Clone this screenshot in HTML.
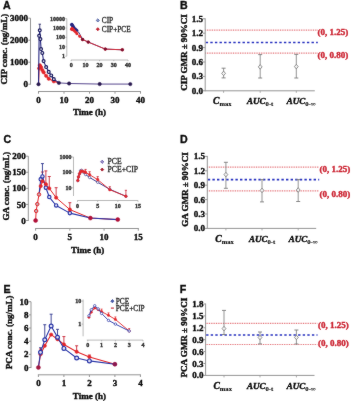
<!DOCTYPE html>
<html><head><meta charset="utf-8"><style>
html,body{margin:0;padding:0;background:#fff;width:351px;height:401px;overflow:hidden}
svg{display:block;will-change:transform}
</style></head><body>
<svg width="351" height="401" viewBox="0 0 351 401">
<defs><filter id="bl" filterUnits="userSpaceOnUse" x="0" y="0" width="351" height="401" color-interpolation-filters="sRGB"><feConvolveMatrix order="3" kernelMatrix="1 2 1 2 48 2 1 2 1" edgeMode="duplicate"/></filter></defs>
<g filter="url(#bl)">
<rect width="351" height="401" fill="#ffffff"/>
<text x="3.10" y="9.00" font-family='"Liberation Sans", sans-serif' font-size="10.6" font-weight="bold" font-style="normal" text-anchor="start" fill="#0c0c0c" stroke="#0c0c0c" stroke-width="0.35">A</text>
<text x="180.00" y="9.00" font-family='"Liberation Sans", sans-serif' font-size="10.6" font-weight="bold" font-style="normal" text-anchor="start" fill="#0c0c0c" stroke="#0c0c0c" stroke-width="0.35">B</text>
<text x="3.40" y="143.40" font-family='"Liberation Sans", sans-serif' font-size="10.6" font-weight="bold" font-style="normal" text-anchor="start" fill="#0c0c0c" stroke="#0c0c0c" stroke-width="0.35">C</text>
<text x="180.00" y="143.40" font-family='"Liberation Sans", sans-serif' font-size="10.6" font-weight="bold" font-style="normal" text-anchor="start" fill="#0c0c0c" stroke="#0c0c0c" stroke-width="0.35">D</text>
<text x="3.60" y="293.00" font-family='"Liberation Sans", sans-serif' font-size="10.6" font-weight="bold" font-style="normal" text-anchor="start" fill="#0c0c0c" stroke="#0c0c0c" stroke-width="0.35">E</text>
<text x="179.80" y="292.60" font-family='"Liberation Sans", sans-serif' font-size="10.6" font-weight="bold" font-style="normal" text-anchor="start" fill="#0c0c0c" stroke="#0c0c0c" stroke-width="0.35">F</text>
<line x1="30.50" y1="18.20" x2="30.50" y2="84.70" stroke="#959595" stroke-width="1"/>
<line x1="28.30" y1="84.20" x2="30.50" y2="84.20" stroke="#959595" stroke-width="1"/>
<text x="27.90" y="87.30" font-family='"Liberation Serif", serif' font-size="9" font-weight="bold" font-style="normal" text-anchor="end" fill="#0c0c0c" stroke="#0c0c0c" stroke-width="0.38">0</text>
<line x1="28.30" y1="62.20" x2="30.50" y2="62.20" stroke="#959595" stroke-width="1"/>
<text x="27.90" y="65.30" font-family='"Liberation Serif", serif' font-size="9" font-weight="bold" font-style="normal" text-anchor="end" fill="#0c0c0c" stroke="#0c0c0c" stroke-width="0.38">1000</text>
<line x1="28.30" y1="40.20" x2="30.50" y2="40.20" stroke="#959595" stroke-width="1"/>
<text x="27.90" y="43.30" font-family='"Liberation Serif", serif' font-size="9" font-weight="bold" font-style="normal" text-anchor="end" fill="#0c0c0c" stroke="#0c0c0c" stroke-width="0.38">2000</text>
<line x1="28.30" y1="18.20" x2="30.50" y2="18.20" stroke="#959595" stroke-width="1"/>
<text x="27.90" y="21.30" font-family='"Liberation Serif", serif' font-size="9" font-weight="bold" font-style="normal" text-anchor="end" fill="#0c0c0c" stroke="#0c0c0c" stroke-width="0.38">3000</text>
<line x1="38.00" y1="91.50" x2="141.00" y2="91.50" stroke="#959595" stroke-width="1"/>
<line x1="38.50" y1="91.50" x2="38.50" y2="93.70" stroke="#959595" stroke-width="1"/>
<text x="38.50" y="102.80" font-family='"Liberation Serif", serif' font-size="9" font-weight="bold" font-style="normal" text-anchor="middle" fill="#0c0c0c" stroke="#0c0c0c" stroke-width="0.38">0</text>
<line x1="64.00" y1="91.50" x2="64.00" y2="93.70" stroke="#959595" stroke-width="1"/>
<text x="64.00" y="102.80" font-family='"Liberation Serif", serif' font-size="9" font-weight="bold" font-style="normal" text-anchor="middle" fill="#0c0c0c" stroke="#0c0c0c" stroke-width="0.38">10</text>
<line x1="89.50" y1="91.50" x2="89.50" y2="93.70" stroke="#959595" stroke-width="1"/>
<text x="89.50" y="102.80" font-family='"Liberation Serif", serif' font-size="9" font-weight="bold" font-style="normal" text-anchor="middle" fill="#0c0c0c" stroke="#0c0c0c" stroke-width="0.38">20</text>
<line x1="115.00" y1="91.50" x2="115.00" y2="93.70" stroke="#959595" stroke-width="1"/>
<text x="115.00" y="102.80" font-family='"Liberation Serif", serif' font-size="9" font-weight="bold" font-style="normal" text-anchor="middle" fill="#0c0c0c" stroke="#0c0c0c" stroke-width="0.38">30</text>
<line x1="140.50" y1="91.50" x2="140.50" y2="93.70" stroke="#959595" stroke-width="1"/>
<text x="140.50" y="102.80" font-family='"Liberation Serif", serif' font-size="9" font-weight="bold" font-style="normal" text-anchor="middle" fill="#0c0c0c" stroke="#0c0c0c" stroke-width="0.38">40</text>
<text x="89.50" y="115.20" font-family='"Liberation Serif", serif' font-size="9" font-weight="bold" font-style="normal" text-anchor="middle" fill="#0c0c0c" stroke="#0c0c0c" stroke-width="0.38">Time (h)</text>
<text x="7.30" y="49.25" font-family='"Liberation Serif", serif' font-size="9" font-weight="bold" font-style="normal" text-anchor="middle" fill="#0c0c0c" stroke="#0c0c0c" stroke-width="0.38" transform="rotate(-90 7.30 49.25)">CIP conc. (ng/mL)</text>
<line x1="39.77" y1="24.20" x2="39.77" y2="30.30" stroke="#1c1c5e" stroke-width="0.8"/>
<line x1="38.52" y1="24.20" x2="41.02" y2="24.20" stroke="#1c1c5e" stroke-width="0.8"/>
<polyline points="38.50,84.20 39.14,68.36 39.77,65.28 40.41,66.60 41.05,67.48 42.33,70.12 43.60,72.32 46.15,75.84 48.70,78.70 53.80,81.34 58.90,82.88" fill="none" stroke="#e3262b" stroke-width="1.1" stroke-linejoin="round"/>
<circle cx="39.14" cy="68.36" r="1.7" fill="#e3262b" stroke="#e3262b" stroke-width="0.5"/>
<circle cx="39.77" cy="65.28" r="1.7" fill="#e3262b" stroke="#e3262b" stroke-width="0.5"/>
<circle cx="40.41" cy="66.60" r="1.7" fill="#e3262b" stroke="#e3262b" stroke-width="0.5"/>
<circle cx="41.05" cy="67.48" r="1.7" fill="#e3262b" stroke="#e3262b" stroke-width="0.5"/>
<circle cx="42.33" cy="70.12" r="1.7" fill="#e3262b" stroke="#e3262b" stroke-width="0.5"/>
<circle cx="43.60" cy="72.32" r="1.7" fill="#e3262b" stroke="#e3262b" stroke-width="0.5"/>
<circle cx="46.15" cy="75.84" r="1.7" fill="#e3262b" stroke="#e3262b" stroke-width="0.5"/>
<circle cx="48.70" cy="78.70" r="1.7" fill="#e3262b" stroke="#e3262b" stroke-width="0.5"/>
<circle cx="53.80" cy="81.34" r="1.7" fill="#e3262b" stroke="#e3262b" stroke-width="0.5"/>
<polyline points="38.50,84.20 39.14,35.80 39.77,30.30 40.41,39.10 41.05,49.00 42.33,52.96 43.60,61.10 46.15,67.04 48.70,71.88 51.25,75.40 53.80,79.14 58.90,82.88" fill="none" stroke="#262680" stroke-width="1.1" stroke-linejoin="round"/>
<polyline points="58.90,82.88 69.10,83.50 99.70,84.07 130.30,84.09" fill="none" stroke="#5a4a90" stroke-width="1.0" stroke-linejoin="round"/>
<circle cx="39.14" cy="35.80" r="1.45" fill="#d8d8ec" stroke="#1c1c5e" stroke-width="1.15"/>
<circle cx="39.77" cy="30.30" r="1.45" fill="#d8d8ec" stroke="#1c1c5e" stroke-width="1.15"/>
<circle cx="40.41" cy="39.10" r="1.45" fill="#d8d8ec" stroke="#1c1c5e" stroke-width="1.15"/>
<circle cx="41.05" cy="49.00" r="1.45" fill="#d8d8ec" stroke="#1c1c5e" stroke-width="1.15"/>
<circle cx="42.33" cy="52.96" r="1.45" fill="#d8d8ec" stroke="#1c1c5e" stroke-width="1.15"/>
<circle cx="43.60" cy="61.10" r="1.45" fill="#d8d8ec" stroke="#1c1c5e" stroke-width="1.15"/>
<circle cx="46.15" cy="67.04" r="1.45" fill="#d8d8ec" stroke="#1c1c5e" stroke-width="1.15"/>
<circle cx="48.70" cy="71.88" r="1.45" fill="#d8d8ec" stroke="#1c1c5e" stroke-width="1.15"/>
<circle cx="51.25" cy="75.40" r="1.45" fill="#d8d8ec" stroke="#1c1c5e" stroke-width="1.15"/>
<circle cx="53.80" cy="79.14" r="1.45" fill="#d8d8ec" stroke="#1c1c5e" stroke-width="1.15"/>
<circle cx="38.50" cy="84.20" r="1.7" fill="#2a1a50" stroke="#2a1a50" stroke-width="0.5"/>
<circle cx="58.90" cy="82.88" r="1.7" fill="#2a1a50" stroke="#2a1a50" stroke-width="0.5"/>
<circle cx="69.10" cy="83.50" r="1.7" fill="#2a1a50" stroke="#2a1a50" stroke-width="0.5"/>
<circle cx="99.70" cy="84.07" r="1.7" fill="#2a1a50" stroke="#2a1a50" stroke-width="0.5"/>
<circle cx="130.30" cy="84.09" r="1.7" fill="#2a1a50" stroke="#2a1a50" stroke-width="0.5"/>
<line x1="66.80" y1="18.60" x2="66.80" y2="56.20" stroke="#a8a8a8" stroke-width="0.8"/>
<line x1="65.30" y1="56.20" x2="66.80" y2="56.20" stroke="#a8a8a8" stroke-width="0.8"/>
<text x="65.00" y="58.20" font-family='"Liberation Serif", serif' font-size="6" font-weight="bold" font-style="normal" text-anchor="end" fill="#333" stroke="#333" stroke-width="0.38">1</text>
<line x1="65.30" y1="46.80" x2="66.80" y2="46.80" stroke="#a8a8a8" stroke-width="0.8"/>
<text x="65.00" y="48.80" font-family='"Liberation Serif", serif' font-size="6" font-weight="bold" font-style="normal" text-anchor="end" fill="#333" stroke="#333" stroke-width="0.38">10</text>
<line x1="65.30" y1="37.40" x2="66.80" y2="37.40" stroke="#a8a8a8" stroke-width="0.8"/>
<text x="65.00" y="39.40" font-family='"Liberation Serif", serif' font-size="6" font-weight="bold" font-style="normal" text-anchor="end" fill="#333" stroke="#333" stroke-width="0.38">100</text>
<line x1="65.30" y1="28.00" x2="66.80" y2="28.00" stroke="#a8a8a8" stroke-width="0.8"/>
<text x="65.00" y="30.00" font-family='"Liberation Serif", serif' font-size="6" font-weight="bold" font-style="normal" text-anchor="end" fill="#333" stroke="#333" stroke-width="0.38">1000</text>
<line x1="65.30" y1="18.60" x2="66.80" y2="18.60" stroke="#a8a8a8" stroke-width="0.8"/>
<text x="65.00" y="20.60" font-family='"Liberation Serif", serif' font-size="6" font-weight="bold" font-style="normal" text-anchor="end" fill="#333" stroke="#333" stroke-width="0.38">10000</text>
<line x1="71.00" y1="60.00" x2="128.00" y2="60.00" stroke="#a8a8a8" stroke-width="0.8"/>
<line x1="71.20" y1="60.00" x2="71.20" y2="61.20" stroke="#a8a8a8" stroke-width="0.8"/>
<text x="71.20" y="67.20" font-family='"Liberation Serif", serif' font-size="6" font-weight="bold" font-style="normal" text-anchor="middle" fill="#333" stroke="#333" stroke-width="0.38">0</text>
<line x1="85.40" y1="60.00" x2="85.40" y2="61.20" stroke="#a8a8a8" stroke-width="0.8"/>
<text x="85.40" y="67.20" font-family='"Liberation Serif", serif' font-size="6" font-weight="bold" font-style="normal" text-anchor="middle" fill="#333" stroke="#333" stroke-width="0.38">10</text>
<line x1="99.60" y1="60.00" x2="99.60" y2="61.20" stroke="#a8a8a8" stroke-width="0.8"/>
<text x="99.60" y="67.20" font-family='"Liberation Serif", serif' font-size="6" font-weight="bold" font-style="normal" text-anchor="middle" fill="#333" stroke="#333" stroke-width="0.38">20</text>
<line x1="113.80" y1="60.00" x2="113.80" y2="61.20" stroke="#a8a8a8" stroke-width="0.8"/>
<text x="113.80" y="67.20" font-family='"Liberation Serif", serif' font-size="6" font-weight="bold" font-style="normal" text-anchor="middle" fill="#333" stroke="#333" stroke-width="0.38">30</text>
<line x1="128.00" y1="60.00" x2="128.00" y2="61.20" stroke="#a8a8a8" stroke-width="0.8"/>
<text x="128.00" y="67.20" font-family='"Liberation Serif", serif' font-size="6" font-weight="bold" font-style="normal" text-anchor="middle" fill="#333" stroke="#333" stroke-width="0.38">40</text>
<polyline points="71.56,24.78 71.91,24.34 72.27,25.07 72.62,26.08 73.33,26.57 74.04,27.80 75.46,29.01 76.88,30.37 78.30,31.74 79.72,34.00 82.56,39.49 88.24,42.05 105.28,49.09 122.32,49.80" fill="none" stroke="#262680" stroke-width="0.9" stroke-linejoin="round"/>
<polyline points="71.56,29.34 71.91,28.62 72.27,28.91 72.62,29.12 73.33,29.82 74.04,30.52 75.46,31.95 76.88,33.66 79.72,36.33 82.56,39.49 88.24,42.05 105.28,49.09 122.32,49.80" fill="none" stroke="#e3262b" stroke-width="0.9" stroke-linejoin="round"/>
<circle cx="71.56" cy="24.78" r="1.3" fill="#262680" stroke="#262680" stroke-width="0.4"/>
<circle cx="71.91" cy="24.34" r="1.3" fill="#262680" stroke="#262680" stroke-width="0.4"/>
<circle cx="72.27" cy="25.07" r="1.3" fill="#262680" stroke="#262680" stroke-width="0.4"/>
<circle cx="72.62" cy="26.08" r="1.3" fill="#262680" stroke="#262680" stroke-width="0.4"/>
<circle cx="73.33" cy="26.57" r="1.3" fill="#262680" stroke="#262680" stroke-width="0.4"/>
<circle cx="74.04" cy="27.80" r="1.3" fill="#262680" stroke="#262680" stroke-width="0.4"/>
<circle cx="75.46" cy="29.01" r="1.3" fill="#262680" stroke="#262680" stroke-width="0.4"/>
<circle cx="76.88" cy="30.37" r="1.3" fill="#262680" stroke="#262680" stroke-width="0.4"/>
<circle cx="71.56" cy="29.34" r="1.3" fill="#e3262b" stroke="#e3262b" stroke-width="0.4"/>
<circle cx="71.91" cy="28.62" r="1.3" fill="#e3262b" stroke="#e3262b" stroke-width="0.4"/>
<circle cx="72.27" cy="28.91" r="1.3" fill="#e3262b" stroke="#e3262b" stroke-width="0.4"/>
<circle cx="72.62" cy="29.12" r="1.3" fill="#e3262b" stroke="#e3262b" stroke-width="0.4"/>
<circle cx="73.33" cy="29.82" r="1.3" fill="#e3262b" stroke="#e3262b" stroke-width="0.4"/>
<circle cx="74.04" cy="30.52" r="1.3" fill="#e3262b" stroke="#e3262b" stroke-width="0.4"/>
<circle cx="75.46" cy="31.95" r="1.3" fill="#e3262b" stroke="#e3262b" stroke-width="0.4"/>
<circle cx="76.88" cy="33.66" r="1.3" fill="#e3262b" stroke="#e3262b" stroke-width="0.4"/>
<circle cx="79.72" cy="36.33" r="1.3" fill="#e3262b" stroke="#e3262b" stroke-width="0.4"/>
<circle cx="82.56" cy="39.49" r="1.3" fill="#e3262b" stroke="#e3262b" stroke-width="0.4"/>
<circle cx="88.24" cy="42.05" r="1.3" fill="#e3262b" stroke="#e3262b" stroke-width="0.4"/>
<circle cx="105.28" cy="49.09" r="1.3" fill="#e3262b" stroke="#e3262b" stroke-width="0.4"/>
<circle cx="122.32" cy="49.80" r="1.3" fill="#e3262b" stroke="#e3262b" stroke-width="0.4"/>
<circle cx="82.56" cy="39.49" r="1.4" fill="#7a1030" stroke="#7a1030" stroke-width="0.4"/>
<circle cx="88.24" cy="42.05" r="1.4" fill="#7a1030" stroke="#7a1030" stroke-width="0.4"/>
<circle cx="105.28" cy="49.09" r="1.4" fill="#7a1030" stroke="#7a1030" stroke-width="0.4"/>
<circle cx="122.32" cy="49.80" r="1.4" fill="#7a1030" stroke="#7a1030" stroke-width="0.4"/>
<path d="M97.80 18.80 L99.40 20.40 L97.80 22.00 L96.20 20.40 Z" fill="#8a96c0" stroke="#5a6aa8" stroke-width="0.9"/>
<text x="101.80" y="23.00" font-family='"Liberation Serif", serif' font-size="7.3" font-weight="normal" font-style="normal" text-anchor="start" fill="#2a2a2a" stroke="#2a2a2a" stroke-width="0.3">CIP</text>
<path d="M97.80 27.70 L99.30 29.20 L97.80 30.70 L96.30 29.20 Z" fill="#c02030" stroke="#c02030" stroke-width="0.9"/>
<text x="101.80" y="31.90" font-family='"Liberation Serif", serif' font-size="7.3" font-weight="normal" font-style="normal" text-anchor="start" fill="#2a2a2a" stroke="#2a2a2a" stroke-width="0.3">CIP+PCE</text>
<line x1="205.20" y1="30.10" x2="317.60" y2="30.10" stroke="#e26a70" stroke-width="1.1" stroke-dasharray="0.9 0.84"/>
<line x1="205.20" y1="53.10" x2="317.60" y2="53.10" stroke="#e26a70" stroke-width="1.1" stroke-dasharray="0.9 0.84"/>
<line x1="205.70" y1="42.50" x2="317.80" y2="42.50" stroke="#2a34c0" stroke-width="1.7" stroke-dasharray="2.4 2.2"/>
<line x1="205.20" y1="18.30" x2="205.20" y2="91.30" stroke="#959595" stroke-width="1"/>
<line x1="203.00" y1="90.80" x2="205.20" y2="90.80" stroke="#959595" stroke-width="1"/>
<text x="203.00" y="93.80" font-family='"Liberation Serif", serif' font-size="9" font-weight="bold" font-style="normal" text-anchor="end" fill="#0c0c0c" stroke="#0c0c0c" stroke-width="0.38">0.0</text>
<line x1="203.00" y1="76.40" x2="205.20" y2="76.40" stroke="#959595" stroke-width="1"/>
<text x="203.00" y="79.40" font-family='"Liberation Serif", serif' font-size="9" font-weight="bold" font-style="normal" text-anchor="end" fill="#0c0c0c" stroke="#0c0c0c" stroke-width="0.38">0.3</text>
<line x1="203.00" y1="62.00" x2="205.20" y2="62.00" stroke="#959595" stroke-width="1"/>
<text x="203.00" y="65.00" font-family='"Liberation Serif", serif' font-size="9" font-weight="bold" font-style="normal" text-anchor="end" fill="#0c0c0c" stroke="#0c0c0c" stroke-width="0.38">0.6</text>
<line x1="203.00" y1="47.60" x2="205.20" y2="47.60" stroke="#959595" stroke-width="1"/>
<text x="203.00" y="50.60" font-family='"Liberation Serif", serif' font-size="9" font-weight="bold" font-style="normal" text-anchor="end" fill="#0c0c0c" stroke="#0c0c0c" stroke-width="0.38">0.9</text>
<line x1="203.00" y1="33.20" x2="205.20" y2="33.20" stroke="#959595" stroke-width="1"/>
<text x="203.00" y="36.20" font-family='"Liberation Serif", serif' font-size="9" font-weight="bold" font-style="normal" text-anchor="end" fill="#0c0c0c" stroke="#0c0c0c" stroke-width="0.38">1.2</text>
<line x1="203.00" y1="18.80" x2="205.20" y2="18.80" stroke="#959595" stroke-width="1"/>
<text x="203.00" y="21.80" font-family='"Liberation Serif", serif' font-size="9" font-weight="bold" font-style="normal" text-anchor="end" fill="#0c0c0c" stroke="#0c0c0c" stroke-width="0.38">1.5</text>
<line x1="205.20" y1="90.80" x2="314.80" y2="90.80" stroke="#959595" stroke-width="1"/>
<line x1="223.60" y1="90.80" x2="223.60" y2="92.80" stroke="#959595" stroke-width="0.8"/>
<line x1="260.20" y1="90.80" x2="260.20" y2="92.80" stroke="#959595" stroke-width="0.8"/>
<line x1="296.30" y1="90.80" x2="296.30" y2="92.80" stroke="#959595" stroke-width="0.8"/>
<text x="222.30" y="104.20" font-family='"Liberation Serif", serif' font-weight="bold" fill="#0c0c0c" stroke="#0c0c0c" stroke-width="0.38" text-anchor="middle"><tspan font-size="9.6" font-style="italic">C</tspan><tspan font-size="6.6" dy="1.9" stroke-width="0.15">max</tspan></text>
<text x="260.20" y="104.20" font-family='"Liberation Serif", serif' font-weight="bold" fill="#0c0c0c" stroke="#0c0c0c" stroke-width="0.38" text-anchor="middle"><tspan font-size="9" font-style="italic">AUC</tspan><tspan font-size="6.6" dy="1.9" stroke-width="0.15">0-t</tspan></text>
<text x="301.10" y="104.20" font-family='"Liberation Serif", serif' font-weight="bold" fill="#0c0c0c" stroke="#0c0c0c" stroke-width="0.38" text-anchor="middle"><tspan font-size="9" font-style="italic">AUC</tspan><tspan font-size="6.6" dy="1.9" stroke-width="0.15">0-∞</tspan></text>
<text x="317.60" y="35.00" font-family='"Liberation Serif", serif' font-size="9" font-weight="bold" font-style="normal" text-anchor="start" fill="#cc2634" stroke="#cc2634" stroke-width="0.38">(0, 1.25)</text>
<text x="317.60" y="58.40" font-family='"Liberation Serif", serif' font-size="9" font-weight="bold" font-style="normal" text-anchor="start" fill="#cc2634" stroke="#cc2634" stroke-width="0.38">(0, 0.80)</text>
<line x1="223.60" y1="68.20" x2="223.60" y2="77.90" stroke="#7a7a7a" stroke-width="0.8"/>
<line x1="221.60" y1="68.20" x2="225.60" y2="68.20" stroke="#7a7a7a" stroke-width="0.9"/>
<line x1="221.60" y1="77.90" x2="225.60" y2="77.90" stroke="#7a7a7a" stroke-width="0.9"/>
<path d="M223.60 71.10 L225.50 73.40 L223.60 75.70 L221.70 73.40 Z" fill="#f4f4f4" stroke="#7a7a7a" stroke-width="0.8"/>
<line x1="260.20" y1="54.60" x2="260.20" y2="78.00" stroke="#7a7a7a" stroke-width="0.8"/>
<line x1="258.20" y1="54.60" x2="262.20" y2="54.60" stroke="#7a7a7a" stroke-width="0.9"/>
<line x1="258.20" y1="78.00" x2="262.20" y2="78.00" stroke="#7a7a7a" stroke-width="0.9"/>
<path d="M260.20 64.60 L262.10 66.90 L260.20 69.20 L258.30 66.90 Z" fill="#f4f4f4" stroke="#7a7a7a" stroke-width="0.8"/>
<line x1="296.30" y1="54.40" x2="296.30" y2="78.00" stroke="#7a7a7a" stroke-width="0.8"/>
<line x1="294.30" y1="54.40" x2="298.30" y2="54.40" stroke="#7a7a7a" stroke-width="0.9"/>
<line x1="294.30" y1="78.00" x2="298.30" y2="78.00" stroke="#7a7a7a" stroke-width="0.9"/>
<path d="M296.30 64.30 L298.20 66.60 L296.30 68.90 L294.40 66.60 Z" fill="#f4f4f4" stroke="#7a7a7a" stroke-width="0.8"/>
<text x="186.60" y="52.50" font-family='"Liberation Serif", serif' font-size="9" font-weight="bold" font-style="normal" text-anchor="middle" fill="#0c0c0c" stroke="#0c0c0c" stroke-width="0.38" transform="rotate(-90 186.60 52.50)">CIP GMR ± 90%CI</text>
<line x1="207.30" y1="167.10" x2="319.00" y2="167.10" stroke="#e26a70" stroke-width="1.1" stroke-dasharray="0.9 0.84"/>
<line x1="207.30" y1="190.90" x2="319.00" y2="190.90" stroke="#e26a70" stroke-width="1.1" stroke-dasharray="0.9 0.84"/>
<line x1="207.80" y1="179.60" x2="319.20" y2="179.60" stroke="#2a34c0" stroke-width="1.7" stroke-dasharray="2.4 2.2"/>
<line x1="207.30" y1="155.90" x2="207.30" y2="228.90" stroke="#959595" stroke-width="1"/>
<line x1="205.10" y1="228.40" x2="207.30" y2="228.40" stroke="#959595" stroke-width="1"/>
<text x="205.10" y="231.40" font-family='"Liberation Serif", serif' font-size="9" font-weight="bold" font-style="normal" text-anchor="end" fill="#0c0c0c" stroke="#0c0c0c" stroke-width="0.38">0.0</text>
<line x1="205.10" y1="214.00" x2="207.30" y2="214.00" stroke="#959595" stroke-width="1"/>
<text x="205.10" y="217.00" font-family='"Liberation Serif", serif' font-size="9" font-weight="bold" font-style="normal" text-anchor="end" fill="#0c0c0c" stroke="#0c0c0c" stroke-width="0.38">0.3</text>
<line x1="205.10" y1="199.60" x2="207.30" y2="199.60" stroke="#959595" stroke-width="1"/>
<text x="205.10" y="202.60" font-family='"Liberation Serif", serif' font-size="9" font-weight="bold" font-style="normal" text-anchor="end" fill="#0c0c0c" stroke="#0c0c0c" stroke-width="0.38">0.6</text>
<line x1="205.10" y1="185.20" x2="207.30" y2="185.20" stroke="#959595" stroke-width="1"/>
<text x="205.10" y="188.20" font-family='"Liberation Serif", serif' font-size="9" font-weight="bold" font-style="normal" text-anchor="end" fill="#0c0c0c" stroke="#0c0c0c" stroke-width="0.38">0.9</text>
<line x1="205.10" y1="170.80" x2="207.30" y2="170.80" stroke="#959595" stroke-width="1"/>
<text x="205.10" y="173.80" font-family='"Liberation Serif", serif' font-size="9" font-weight="bold" font-style="normal" text-anchor="end" fill="#0c0c0c" stroke="#0c0c0c" stroke-width="0.38">1.2</text>
<line x1="205.10" y1="156.40" x2="207.30" y2="156.40" stroke="#959595" stroke-width="1"/>
<text x="205.10" y="159.40" font-family='"Liberation Serif", serif' font-size="9" font-weight="bold" font-style="normal" text-anchor="end" fill="#0c0c0c" stroke="#0c0c0c" stroke-width="0.38">1.5</text>
<line x1="207.30" y1="228.40" x2="316.20" y2="228.40" stroke="#959595" stroke-width="1"/>
<line x1="225.90" y1="228.40" x2="225.90" y2="230.40" stroke="#959595" stroke-width="0.8"/>
<line x1="262.00" y1="228.40" x2="262.00" y2="230.40" stroke="#959595" stroke-width="0.8"/>
<line x1="298.20" y1="228.40" x2="298.20" y2="230.40" stroke="#959595" stroke-width="0.8"/>
<text x="224.60" y="241.80" font-family='"Liberation Serif", serif' font-weight="bold" fill="#0c0c0c" stroke="#0c0c0c" stroke-width="0.38" text-anchor="middle"><tspan font-size="9.6" font-style="italic">C</tspan><tspan font-size="6.6" dy="1.9" stroke-width="0.15">max</tspan></text>
<text x="262.00" y="241.80" font-family='"Liberation Serif", serif' font-weight="bold" fill="#0c0c0c" stroke="#0c0c0c" stroke-width="0.38" text-anchor="middle"><tspan font-size="9" font-style="italic">AUC</tspan><tspan font-size="6.6" dy="1.9" stroke-width="0.15">0-t</tspan></text>
<text x="303.00" y="241.80" font-family='"Liberation Serif", serif' font-weight="bold" fill="#0c0c0c" stroke="#0c0c0c" stroke-width="0.38" text-anchor="middle"><tspan font-size="9" font-style="italic">AUC</tspan><tspan font-size="6.6" dy="1.9" stroke-width="0.15">0-∞</tspan></text>
<text x="319.60" y="172.00" font-family='"Liberation Serif", serif' font-size="9" font-weight="bold" font-style="normal" text-anchor="start" fill="#cc2634" stroke="#cc2634" stroke-width="0.38">(0, 1.25)</text>
<text x="319.60" y="197.10" font-family='"Liberation Serif", serif' font-size="9" font-weight="bold" font-style="normal" text-anchor="start" fill="#cc2634" stroke="#cc2634" stroke-width="0.38">(0, 0.80)</text>
<line x1="225.90" y1="162.30" x2="225.90" y2="188.30" stroke="#7a7a7a" stroke-width="0.8"/>
<line x1="223.90" y1="162.30" x2="227.90" y2="162.30" stroke="#7a7a7a" stroke-width="0.9"/>
<line x1="223.90" y1="188.30" x2="227.90" y2="188.30" stroke="#7a7a7a" stroke-width="0.9"/>
<path d="M225.90 172.30 L227.80 174.60 L225.90 176.90 L224.00 174.60 Z" fill="#f4f4f4" stroke="#7a7a7a" stroke-width="0.8"/>
<line x1="262.00" y1="179.60" x2="262.00" y2="201.90" stroke="#7a7a7a" stroke-width="0.8"/>
<line x1="260.00" y1="179.60" x2="264.00" y2="179.60" stroke="#7a7a7a" stroke-width="0.9"/>
<line x1="260.00" y1="201.90" x2="264.00" y2="201.90" stroke="#7a7a7a" stroke-width="0.9"/>
<path d="M262.00 188.10 L263.90 190.40 L262.00 192.70 L260.10 190.40 Z" fill="#f4f4f4" stroke="#7a7a7a" stroke-width="0.8"/>
<line x1="298.20" y1="179.60" x2="298.20" y2="201.50" stroke="#7a7a7a" stroke-width="0.8"/>
<line x1="296.20" y1="179.60" x2="300.20" y2="179.60" stroke="#7a7a7a" stroke-width="0.9"/>
<line x1="296.20" y1="201.50" x2="300.20" y2="201.50" stroke="#7a7a7a" stroke-width="0.9"/>
<path d="M298.20 187.70 L300.10 190.00 L298.20 192.30 L296.30 190.00 Z" fill="#f4f4f4" stroke="#7a7a7a" stroke-width="0.8"/>
<text x="188.00" y="189.50" font-family='"Liberation Serif", serif' font-size="9" font-weight="bold" font-style="normal" text-anchor="middle" fill="#0c0c0c" stroke="#0c0c0c" stroke-width="0.38" transform="rotate(-90 188.00 189.50)">GA GMR ± 90%CI</text>
<line x1="205.60" y1="323.40" x2="317.30" y2="323.40" stroke="#e26a70" stroke-width="1.1" stroke-dasharray="0.9 0.84"/>
<line x1="205.60" y1="344.50" x2="317.30" y2="344.50" stroke="#e26a70" stroke-width="1.1" stroke-dasharray="0.9 0.84"/>
<line x1="206.10" y1="335.00" x2="317.50" y2="335.00" stroke="#2a34c0" stroke-width="1.7" stroke-dasharray="2.4 2.2"/>
<line x1="205.60" y1="303.50" x2="205.60" y2="375.90" stroke="#959595" stroke-width="1"/>
<line x1="203.40" y1="375.40" x2="205.60" y2="375.40" stroke="#959595" stroke-width="1"/>
<text x="203.40" y="378.40" font-family='"Liberation Serif", serif' font-size="9" font-weight="bold" font-style="normal" text-anchor="end" fill="#0c0c0c" stroke="#0c0c0c" stroke-width="0.38">0.0</text>
<line x1="203.40" y1="363.50" x2="205.60" y2="363.50" stroke="#959595" stroke-width="1"/>
<text x="203.40" y="366.50" font-family='"Liberation Serif", serif' font-size="9" font-weight="bold" font-style="normal" text-anchor="end" fill="#0c0c0c" stroke="#0c0c0c" stroke-width="0.38">0.3</text>
<line x1="203.40" y1="351.60" x2="205.60" y2="351.60" stroke="#959595" stroke-width="1"/>
<text x="203.40" y="354.60" font-family='"Liberation Serif", serif' font-size="9" font-weight="bold" font-style="normal" text-anchor="end" fill="#0c0c0c" stroke="#0c0c0c" stroke-width="0.38">0.6</text>
<line x1="203.40" y1="339.70" x2="205.60" y2="339.70" stroke="#959595" stroke-width="1"/>
<text x="203.40" y="342.70" font-family='"Liberation Serif", serif' font-size="9" font-weight="bold" font-style="normal" text-anchor="end" fill="#0c0c0c" stroke="#0c0c0c" stroke-width="0.38">0.9</text>
<line x1="203.40" y1="327.80" x2="205.60" y2="327.80" stroke="#959595" stroke-width="1"/>
<text x="203.40" y="330.80" font-family='"Liberation Serif", serif' font-size="9" font-weight="bold" font-style="normal" text-anchor="end" fill="#0c0c0c" stroke="#0c0c0c" stroke-width="0.38">1.2</text>
<line x1="203.40" y1="315.90" x2="205.60" y2="315.90" stroke="#959595" stroke-width="1"/>
<text x="203.40" y="318.90" font-family='"Liberation Serif", serif' font-size="9" font-weight="bold" font-style="normal" text-anchor="end" fill="#0c0c0c" stroke="#0c0c0c" stroke-width="0.38">1.5</text>
<line x1="203.40" y1="304.00" x2="205.60" y2="304.00" stroke="#959595" stroke-width="1"/>
<text x="203.40" y="307.00" font-family='"Liberation Serif", serif' font-size="9" font-weight="bold" font-style="normal" text-anchor="end" fill="#0c0c0c" stroke="#0c0c0c" stroke-width="0.38">1.8</text>
<line x1="205.60" y1="375.40" x2="314.50" y2="375.40" stroke="#959595" stroke-width="1"/>
<line x1="224.00" y1="375.40" x2="224.00" y2="377.40" stroke="#959595" stroke-width="0.8"/>
<line x1="260.00" y1="375.40" x2="260.00" y2="377.40" stroke="#959595" stroke-width="0.8"/>
<line x1="296.40" y1="375.40" x2="296.40" y2="377.40" stroke="#959595" stroke-width="0.8"/>
<text x="222.70" y="388.80" font-family='"Liberation Serif", serif' font-weight="bold" fill="#0c0c0c" stroke="#0c0c0c" stroke-width="0.38" text-anchor="middle"><tspan font-size="9.6" font-style="italic">C</tspan><tspan font-size="6.6" dy="1.9" stroke-width="0.15">max</tspan></text>
<text x="260.00" y="388.80" font-family='"Liberation Serif", serif' font-weight="bold" fill="#0c0c0c" stroke="#0c0c0c" stroke-width="0.38" text-anchor="middle"><tspan font-size="9" font-style="italic">AUC</tspan><tspan font-size="6.6" dy="1.9" stroke-width="0.15">0-t</tspan></text>
<text x="301.20" y="388.80" font-family='"Liberation Serif", serif' font-weight="bold" fill="#0c0c0c" stroke="#0c0c0c" stroke-width="0.38" text-anchor="middle"><tspan font-size="9" font-style="italic">AUC</tspan><tspan font-size="6.6" dy="1.9" stroke-width="0.15">0-∞</tspan></text>
<text x="317.90" y="328.30" font-family='"Liberation Serif", serif' font-size="9" font-weight="bold" font-style="normal" text-anchor="start" fill="#cc2634" stroke="#cc2634" stroke-width="0.38">(0, 1.25)</text>
<text x="317.90" y="346.30" font-family='"Liberation Serif", serif' font-size="9" font-weight="bold" font-style="normal" text-anchor="start" fill="#cc2634" stroke="#cc2634" stroke-width="0.38">(0, 0.80)</text>
<line x1="224.00" y1="310.40" x2="224.00" y2="334.50" stroke="#7a7a7a" stroke-width="0.8"/>
<line x1="222.00" y1="310.40" x2="226.00" y2="310.40" stroke="#7a7a7a" stroke-width="0.9"/>
<line x1="222.00" y1="334.50" x2="226.00" y2="334.50" stroke="#7a7a7a" stroke-width="0.9"/>
<path d="M224.00 326.30 L225.90 328.60 L224.00 330.90 L222.10 328.60 Z" fill="#f4f4f4" stroke="#7a7a7a" stroke-width="0.8"/>
<line x1="260.00" y1="332.00" x2="260.00" y2="343.90" stroke="#7a7a7a" stroke-width="0.8"/>
<line x1="258.00" y1="332.00" x2="262.00" y2="332.00" stroke="#7a7a7a" stroke-width="0.9"/>
<line x1="258.00" y1="343.90" x2="262.00" y2="343.90" stroke="#7a7a7a" stroke-width="0.9"/>
<path d="M260.00 335.20 L261.90 337.50 L260.00 339.80 L258.10 337.50 Z" fill="#f4f4f4" stroke="#7a7a7a" stroke-width="0.8"/>
<line x1="296.40" y1="330.00" x2="296.40" y2="344.00" stroke="#7a7a7a" stroke-width="0.8"/>
<line x1="294.40" y1="330.00" x2="298.40" y2="330.00" stroke="#7a7a7a" stroke-width="0.9"/>
<line x1="294.40" y1="344.00" x2="298.40" y2="344.00" stroke="#7a7a7a" stroke-width="0.9"/>
<path d="M296.40 335.10 L298.30 337.40 L296.40 339.70 L294.50 337.40 Z" fill="#f4f4f4" stroke="#7a7a7a" stroke-width="0.8"/>
<text x="186.60" y="337.70" font-family='"Liberation Serif", serif' font-size="9" font-weight="bold" font-style="normal" text-anchor="middle" fill="#0c0c0c" stroke="#0c0c0c" stroke-width="0.38" transform="rotate(-90 186.60 337.70)">PCA GMR ± 90%CI</text>
<line x1="28.30" y1="156.20" x2="28.30" y2="221.00" stroke="#959595" stroke-width="1"/>
<line x1="26.10" y1="220.50" x2="28.30" y2="220.50" stroke="#959595" stroke-width="1"/>
<text x="25.70" y="223.60" font-family='"Liberation Serif", serif' font-size="9" font-weight="bold" font-style="normal" text-anchor="end" fill="#0c0c0c" stroke="#0c0c0c" stroke-width="0.38">0</text>
<line x1="26.10" y1="204.43" x2="28.30" y2="204.43" stroke="#959595" stroke-width="1"/>
<text x="25.70" y="207.53" font-family='"Liberation Serif", serif' font-size="9" font-weight="bold" font-style="normal" text-anchor="end" fill="#0c0c0c" stroke="#0c0c0c" stroke-width="0.38">50</text>
<line x1="26.10" y1="188.35" x2="28.30" y2="188.35" stroke="#959595" stroke-width="1"/>
<text x="25.70" y="191.45" font-family='"Liberation Serif", serif' font-size="9" font-weight="bold" font-style="normal" text-anchor="end" fill="#0c0c0c" stroke="#0c0c0c" stroke-width="0.38">100</text>
<line x1="26.10" y1="172.27" x2="28.30" y2="172.27" stroke="#959595" stroke-width="1"/>
<text x="25.70" y="175.37" font-family='"Liberation Serif", serif' font-size="9" font-weight="bold" font-style="normal" text-anchor="end" fill="#0c0c0c" stroke="#0c0c0c" stroke-width="0.38">150</text>
<line x1="26.10" y1="156.20" x2="28.30" y2="156.20" stroke="#959595" stroke-width="1"/>
<text x="25.70" y="159.30" font-family='"Liberation Serif", serif' font-size="9" font-weight="bold" font-style="normal" text-anchor="end" fill="#0c0c0c" stroke="#0c0c0c" stroke-width="0.38">200</text>
<line x1="35.10" y1="228.50" x2="138.80" y2="228.50" stroke="#959595" stroke-width="1"/>
<line x1="35.60" y1="228.50" x2="35.60" y2="230.70" stroke="#959595" stroke-width="1"/>
<text x="35.60" y="239.80" font-family='"Liberation Serif", serif' font-size="9" font-weight="bold" font-style="normal" text-anchor="middle" fill="#0c0c0c" stroke="#0c0c0c" stroke-width="0.38">0</text>
<line x1="69.83" y1="228.50" x2="69.83" y2="230.70" stroke="#959595" stroke-width="1"/>
<text x="69.83" y="239.80" font-family='"Liberation Serif", serif' font-size="9" font-weight="bold" font-style="normal" text-anchor="middle" fill="#0c0c0c" stroke="#0c0c0c" stroke-width="0.38">5</text>
<line x1="104.07" y1="228.50" x2="104.07" y2="230.70" stroke="#959595" stroke-width="1"/>
<text x="104.07" y="239.80" font-family='"Liberation Serif", serif' font-size="9" font-weight="bold" font-style="normal" text-anchor="middle" fill="#0c0c0c" stroke="#0c0c0c" stroke-width="0.38">10</text>
<line x1="138.30" y1="228.50" x2="138.30" y2="230.70" stroke="#959595" stroke-width="1"/>
<text x="138.30" y="239.80" font-family='"Liberation Serif", serif' font-size="9" font-weight="bold" font-style="normal" text-anchor="middle" fill="#0c0c0c" stroke="#0c0c0c" stroke-width="0.38">15</text>
<text x="87.60" y="252.60" font-family='"Liberation Serif", serif' font-size="9" font-weight="bold" font-style="normal" text-anchor="middle" fill="#0c0c0c" stroke="#0c0c0c" stroke-width="0.38">Time (h)</text>
<text x="9.00" y="186.10" font-family='"Liberation Serif", serif' font-size="9" font-weight="bold" font-style="normal" text-anchor="middle" fill="#0c0c0c" stroke="#0c0c0c" stroke-width="0.38" transform="rotate(-90 9.00 186.10)">GA conc. (ng/mL)</text>
<line x1="42.45" y1="172.00" x2="42.45" y2="181.28" stroke="#c82838" stroke-width="0.9"/>
<line x1="40.95" y1="172.00" x2="43.95" y2="172.00" stroke="#c82838" stroke-width="0.9"/>
<line x1="45.87" y1="170.90" x2="45.87" y2="184.17" stroke="#c82838" stroke-width="0.9"/>
<line x1="44.37" y1="170.90" x2="47.37" y2="170.90" stroke="#c82838" stroke-width="0.9"/>
<line x1="49.29" y1="176.50" x2="49.29" y2="188.35" stroke="#c82838" stroke-width="0.9"/>
<line x1="47.79" y1="176.50" x2="50.79" y2="176.50" stroke="#c82838" stroke-width="0.9"/>
<line x1="56.14" y1="187.70" x2="56.14" y2="197.67" stroke="#c82838" stroke-width="0.9"/>
<line x1="54.64" y1="187.70" x2="57.64" y2="187.70" stroke="#c82838" stroke-width="0.9"/>
<line x1="69.83" y1="202.70" x2="69.83" y2="209.57" stroke="#c82838" stroke-width="0.9"/>
<line x1="68.33" y1="202.70" x2="71.33" y2="202.70" stroke="#c82838" stroke-width="0.9"/>
<line x1="42.45" y1="163.60" x2="42.45" y2="176.45" stroke="#303890" stroke-width="0.9"/>
<line x1="40.95" y1="163.60" x2="43.95" y2="163.60" stroke="#303890" stroke-width="0.9"/>
<line x1="40.73" y1="178.00" x2="40.73" y2="179.35" stroke="#303890" stroke-width="0.8"/>
<line x1="39.44" y1="178.00" x2="42.03" y2="178.00" stroke="#303890" stroke-width="0.8"/>
<polyline points="35.60,220.50 36.17,211.02 37.31,204.10 39.02,194.46 40.73,186.10 42.45,181.28 45.87,184.17 49.29,188.35 56.14,197.67 69.83,209.57 90.37,218.09 117.76,219.60" fill="none" stroke="#e3262b" stroke-width="1.0" stroke-linejoin="round"/>
<polyline points="39.02,194.46 40.73,179.35 42.45,176.45 45.87,187.71 49.29,197.03 56.14,205.49 69.83,213.11 90.37,217.93 117.76,219.60" fill="none" stroke="#2a36a8" stroke-width="1.1" stroke-linejoin="round"/>
<circle cx="40.73" cy="179.35" r="1.7" fill="#e0e0f4" stroke="#2a36a8" stroke-width="1.15"/>
<circle cx="42.45" cy="176.45" r="1.7" fill="#e0e0f4" stroke="#2a36a8" stroke-width="1.15"/>
<circle cx="45.87" cy="187.71" r="1.7" fill="#e0e0f4" stroke="#2a36a8" stroke-width="1.15"/>
<circle cx="49.29" cy="197.03" r="1.7" fill="#e0e0f4" stroke="#2a36a8" stroke-width="1.15"/>
<circle cx="56.14" cy="205.49" r="1.7" fill="#e0e0f4" stroke="#2a36a8" stroke-width="1.15"/>
<circle cx="69.83" cy="213.11" r="1.7" fill="#e0e0f4" stroke="#2a36a8" stroke-width="1.15"/>
<circle cx="36.17" cy="211.02" r="1.7" fill="#c8a8b0" stroke="#e3262b" stroke-width="1.0"/>
<circle cx="37.31" cy="204.10" r="1.7" fill="#c8a8b0" stroke="#e3262b" stroke-width="1.0"/>
<circle cx="39.02" cy="194.46" r="1.7" fill="#c8a8b0" stroke="#e3262b" stroke-width="1.0"/>
<circle cx="40.73" cy="186.10" r="1.7" fill="#e3262b" stroke="#e3262b" stroke-width="0.5"/>
<circle cx="42.45" cy="181.28" r="1.7" fill="#e3262b" stroke="#e3262b" stroke-width="0.5"/>
<circle cx="45.87" cy="184.17" r="1.7" fill="#e3262b" stroke="#e3262b" stroke-width="0.5"/>
<circle cx="49.29" cy="188.35" r="1.7" fill="#e3262b" stroke="#e3262b" stroke-width="0.5"/>
<circle cx="56.14" cy="197.67" r="1.7" fill="#e3262b" stroke="#e3262b" stroke-width="0.5"/>
<circle cx="69.83" cy="209.57" r="1.7" fill="#e3262b" stroke="#e3262b" stroke-width="0.5"/>
<circle cx="35.60" cy="220.50" r="2.0" fill="#b01038" stroke="#b01038" stroke-width="0.5"/>
<circle cx="90.37" cy="218.09" r="2.0" fill="#b01038" stroke="#b01038" stroke-width="0.5"/>
<circle cx="117.76" cy="219.60" r="2.0" fill="#b01038" stroke="#b01038" stroke-width="0.5"/>
<line x1="73.50" y1="157.00" x2="73.50" y2="196.00" stroke="#a8a8a8" stroke-width="0.8"/>
<line x1="72.00" y1="187.80" x2="73.50" y2="187.80" stroke="#a8a8a8" stroke-width="0.8"/>
<text x="71.60" y="189.80" font-family='"Liberation Serif", serif' font-size="6" font-weight="bold" font-style="normal" text-anchor="end" fill="#333" stroke="#333" stroke-width="0.38">10</text>
<line x1="72.00" y1="172.40" x2="73.50" y2="172.40" stroke="#a8a8a8" stroke-width="0.8"/>
<text x="71.60" y="174.40" font-family='"Liberation Serif", serif' font-size="6" font-weight="bold" font-style="normal" text-anchor="end" fill="#333" stroke="#333" stroke-width="0.38">100</text>
<line x1="72.00" y1="157.00" x2="73.50" y2="157.00" stroke="#a8a8a8" stroke-width="0.8"/>
<text x="71.60" y="159.00" font-family='"Liberation Serif", serif' font-size="6" font-weight="bold" font-style="normal" text-anchor="end" fill="#333" stroke="#333" stroke-width="0.38">1000</text>
<line x1="77.40" y1="200.50" x2="138.00" y2="200.50" stroke="#a8a8a8" stroke-width="0.8"/>
<line x1="77.50" y1="200.50" x2="77.50" y2="201.80" stroke="#a8a8a8" stroke-width="0.8"/>
<text x="77.50" y="208.00" font-family='"Liberation Serif", serif' font-size="6" font-weight="bold" font-style="normal" text-anchor="middle" fill="#333" stroke="#333" stroke-width="0.38">0</text>
<line x1="97.67" y1="200.50" x2="97.67" y2="201.80" stroke="#a8a8a8" stroke-width="0.8"/>
<text x="97.67" y="208.00" font-family='"Liberation Serif", serif' font-size="6" font-weight="bold" font-style="normal" text-anchor="middle" fill="#333" stroke="#333" stroke-width="0.38">5</text>
<line x1="117.84" y1="200.50" x2="117.84" y2="201.80" stroke="#a8a8a8" stroke-width="0.8"/>
<text x="117.84" y="208.00" font-family='"Liberation Serif", serif' font-size="6" font-weight="bold" font-style="normal" text-anchor="middle" fill="#333" stroke="#333" stroke-width="0.38">10</text>
<line x1="138.01" y1="200.50" x2="138.01" y2="201.80" stroke="#a8a8a8" stroke-width="0.8"/>
<text x="138.01" y="208.00" font-family='"Liberation Serif", serif' font-size="6" font-weight="bold" font-style="normal" text-anchor="middle" fill="#333" stroke="#333" stroke-width="0.38">15</text>
<line x1="85.57" y1="169.40" x2="85.57" y2="172.40" stroke="#c82838" stroke-width="0.8"/>
<line x1="84.47" y1="169.40" x2="86.67" y2="169.40" stroke="#c82838" stroke-width="0.8"/>
<line x1="89.60" y1="171.69" x2="89.60" y2="174.69" stroke="#c82838" stroke-width="0.8"/>
<line x1="88.50" y1="171.69" x2="90.70" y2="171.69" stroke="#c82838" stroke-width="0.8"/>
<line x1="97.67" y1="176.62" x2="97.67" y2="179.62" stroke="#c82838" stroke-width="0.8"/>
<line x1="96.57" y1="176.62" x2="98.77" y2="176.62" stroke="#c82838" stroke-width="0.8"/>
<line x1="109.77" y1="186.72" x2="109.77" y2="189.72" stroke="#c82838" stroke-width="0.8"/>
<line x1="108.67" y1="186.72" x2="110.87" y2="186.72" stroke="#c82838" stroke-width="0.8"/>
<line x1="125.90" y1="190.31" x2="125.90" y2="196.31" stroke="#c82838" stroke-width="0.8"/>
<line x1="124.80" y1="190.31" x2="127.00" y2="190.31" stroke="#c82838" stroke-width="0.8"/>
<polyline points="77.83,180.56 78.51,176.90 79.52,173.81 80.53,170.75 81.53,170.29 83.55,172.27 85.57,174.50 89.60,177.49 97.67,182.23 109.77,189.29 125.90,196.31" fill="none" stroke="#262680" stroke-width="0.9" stroke-linejoin="round"/>
<circle cx="77.83" cy="180.56" r="1.2" fill="white" stroke="#262680" stroke-width="0.6"/>
<circle cx="78.51" cy="176.90" r="1.2" fill="white" stroke="#262680" stroke-width="0.6"/>
<circle cx="79.52" cy="173.81" r="1.2" fill="white" stroke="#262680" stroke-width="0.6"/>
<circle cx="80.53" cy="170.75" r="1.2" fill="white" stroke="#262680" stroke-width="0.6"/>
<circle cx="81.53" cy="170.29" r="1.2" fill="white" stroke="#262680" stroke-width="0.6"/>
<circle cx="83.55" cy="172.27" r="1.2" fill="white" stroke="#262680" stroke-width="0.6"/>
<circle cx="85.57" cy="174.50" r="1.2" fill="white" stroke="#262680" stroke-width="0.6"/>
<circle cx="89.60" cy="177.49" r="1.2" fill="white" stroke="#262680" stroke-width="0.6"/>
<circle cx="97.67" cy="182.23" r="1.2" fill="white" stroke="#262680" stroke-width="0.6"/>
<circle cx="109.77" cy="189.29" r="1.2" fill="white" stroke="#262680" stroke-width="0.6"/>
<circle cx="125.90" cy="196.31" r="1.2" fill="white" stroke="#262680" stroke-width="0.6"/>
<polyline points="77.83,180.56 78.51,176.90 79.52,173.81 80.53,171.95 81.53,171.07 83.55,171.58 85.57,172.40 89.60,174.69 97.67,179.62 109.77,189.72 125.90,196.31" fill="none" stroke="#e3262b" stroke-width="0.9" stroke-linejoin="round"/>
<circle cx="77.83" cy="180.56" r="1.3" fill="#e3262b" stroke="#e3262b" stroke-width="0.4"/>
<circle cx="78.51" cy="176.90" r="1.3" fill="#e3262b" stroke="#e3262b" stroke-width="0.4"/>
<circle cx="79.52" cy="173.81" r="1.3" fill="#e3262b" stroke="#e3262b" stroke-width="0.4"/>
<circle cx="80.53" cy="171.95" r="1.3" fill="#e3262b" stroke="#e3262b" stroke-width="0.4"/>
<circle cx="81.53" cy="171.07" r="1.3" fill="#e3262b" stroke="#e3262b" stroke-width="0.4"/>
<circle cx="83.55" cy="171.58" r="1.3" fill="#e3262b" stroke="#e3262b" stroke-width="0.4"/>
<circle cx="85.57" cy="172.40" r="1.3" fill="#e3262b" stroke="#e3262b" stroke-width="0.4"/>
<circle cx="89.60" cy="174.69" r="1.3" fill="#e3262b" stroke="#e3262b" stroke-width="0.4"/>
<circle cx="97.67" cy="179.62" r="1.3" fill="#e3262b" stroke="#e3262b" stroke-width="0.4"/>
<circle cx="109.77" cy="189.72" r="1.3" fill="#e3262b" stroke="#e3262b" stroke-width="0.4"/>
<circle cx="125.90" cy="196.31" r="1.3" fill="#e3262b" stroke="#e3262b" stroke-width="0.4"/>
<path d="M102.20 160.20 L103.80 161.80 L102.20 163.40 L100.60 161.80 Z" fill="#9a90c8" stroke="#6a5aa8" stroke-width="0.9"/>
<text x="107.60" y="164.40" font-family='"Liberation Serif", serif' font-size="7.7" font-weight="normal" font-style="normal" text-anchor="start" fill="#2a2a2a" stroke="#2a2a2a" stroke-width="0.3">PCE</text>
<path d="M102.20 168.10 L103.70 169.60 L102.20 171.10 L100.70 169.60 Z" fill="#a82030" stroke="#a82030" stroke-width="0.9"/>
<text x="107.60" y="172.10" font-family='"Liberation Serif", serif' font-size="7.7" font-weight="normal" font-style="normal" text-anchor="start" fill="#2a2a2a" stroke="#2a2a2a" stroke-width="0.3">PCE+CIP</text>
<line x1="31.00" y1="301.70" x2="31.00" y2="368.00" stroke="#959595" stroke-width="1"/>
<line x1="28.80" y1="367.50" x2="31.00" y2="367.50" stroke="#959595" stroke-width="1"/>
<text x="28.40" y="370.60" font-family='"Liberation Serif", serif' font-size="9" font-weight="bold" font-style="normal" text-anchor="end" fill="#0c0c0c" stroke="#0c0c0c" stroke-width="0.38">0</text>
<line x1="28.80" y1="354.34" x2="31.00" y2="354.34" stroke="#959595" stroke-width="1"/>
<text x="28.40" y="357.44" font-family='"Liberation Serif", serif' font-size="9" font-weight="bold" font-style="normal" text-anchor="end" fill="#0c0c0c" stroke="#0c0c0c" stroke-width="0.38">2</text>
<line x1="28.80" y1="341.18" x2="31.00" y2="341.18" stroke="#959595" stroke-width="1"/>
<text x="28.40" y="344.28" font-family='"Liberation Serif", serif' font-size="9" font-weight="bold" font-style="normal" text-anchor="end" fill="#0c0c0c" stroke="#0c0c0c" stroke-width="0.38">4</text>
<line x1="28.80" y1="328.02" x2="31.00" y2="328.02" stroke="#959595" stroke-width="1"/>
<text x="28.40" y="331.12" font-family='"Liberation Serif", serif' font-size="9" font-weight="bold" font-style="normal" text-anchor="end" fill="#0c0c0c" stroke="#0c0c0c" stroke-width="0.38">6</text>
<line x1="28.80" y1="314.86" x2="31.00" y2="314.86" stroke="#959595" stroke-width="1"/>
<text x="28.40" y="317.96" font-family='"Liberation Serif", serif' font-size="9" font-weight="bold" font-style="normal" text-anchor="end" fill="#0c0c0c" stroke="#0c0c0c" stroke-width="0.38">8</text>
<line x1="28.80" y1="301.70" x2="31.00" y2="301.70" stroke="#959595" stroke-width="1"/>
<text x="28.40" y="304.80" font-family='"Liberation Serif", serif' font-size="9" font-weight="bold" font-style="normal" text-anchor="end" fill="#0c0c0c" stroke="#0c0c0c" stroke-width="0.38">10</text>
<line x1="37.90" y1="374.80" x2="140.90" y2="374.80" stroke="#959595" stroke-width="1"/>
<line x1="38.40" y1="374.80" x2="38.40" y2="377.00" stroke="#959595" stroke-width="1"/>
<text x="38.40" y="386.10" font-family='"Liberation Serif", serif' font-size="9" font-weight="bold" font-style="normal" text-anchor="middle" fill="#0c0c0c" stroke="#0c0c0c" stroke-width="0.38">0</text>
<line x1="63.90" y1="374.80" x2="63.90" y2="377.00" stroke="#959595" stroke-width="1"/>
<text x="63.90" y="386.10" font-family='"Liberation Serif", serif' font-size="9" font-weight="bold" font-style="normal" text-anchor="middle" fill="#0c0c0c" stroke="#0c0c0c" stroke-width="0.38">1</text>
<line x1="89.40" y1="374.80" x2="89.40" y2="377.00" stroke="#959595" stroke-width="1"/>
<text x="89.40" y="386.10" font-family='"Liberation Serif", serif' font-size="9" font-weight="bold" font-style="normal" text-anchor="middle" fill="#0c0c0c" stroke="#0c0c0c" stroke-width="0.38">2</text>
<line x1="114.90" y1="374.80" x2="114.90" y2="377.00" stroke="#959595" stroke-width="1"/>
<text x="114.90" y="386.10" font-family='"Liberation Serif", serif' font-size="9" font-weight="bold" font-style="normal" text-anchor="middle" fill="#0c0c0c" stroke="#0c0c0c" stroke-width="0.38">3</text>
<line x1="140.40" y1="374.80" x2="140.40" y2="377.00" stroke="#959595" stroke-width="1"/>
<text x="140.40" y="386.10" font-family='"Liberation Serif", serif' font-size="9" font-weight="bold" font-style="normal" text-anchor="middle" fill="#0c0c0c" stroke="#0c0c0c" stroke-width="0.38">4</text>
<text x="89.40" y="399.00" font-family='"Liberation Serif", serif' font-size="9" font-weight="bold" font-style="normal" text-anchor="middle" fill="#0c0c0c" stroke="#0c0c0c" stroke-width="0.38">Time (h)</text>
<text x="12.00" y="332.25" font-family='"Liberation Serif", serif' font-size="9" font-weight="bold" font-style="normal" text-anchor="middle" fill="#0c0c0c" stroke="#0c0c0c" stroke-width="0.38" transform="rotate(-90 12.00 332.25)">PCA conc. (ng/mL)</text>
<line x1="40.52" y1="347.76" x2="40.52" y2="352.37" stroke="#303890" stroke-width="0.9"/>
<line x1="39.02" y1="347.76" x2="42.02" y2="347.76" stroke="#303890" stroke-width="0.9"/>
<line x1="44.77" y1="324.73" x2="44.77" y2="339.86" stroke="#303890" stroke-width="0.9"/>
<line x1="43.27" y1="324.73" x2="46.27" y2="324.73" stroke="#303890" stroke-width="0.9"/>
<line x1="51.15" y1="314.20" x2="51.15" y2="326.05" stroke="#303890" stroke-width="0.9"/>
<line x1="49.65" y1="314.20" x2="52.65" y2="314.20" stroke="#303890" stroke-width="0.9"/>
<line x1="57.52" y1="329.34" x2="57.52" y2="337.23" stroke="#303890" stroke-width="0.9"/>
<line x1="56.02" y1="329.34" x2="59.02" y2="329.34" stroke="#303890" stroke-width="0.9"/>
<line x1="40.52" y1="349.08" x2="40.52" y2="354.34" stroke="#c82838" stroke-width="0.9"/>
<line x1="39.02" y1="349.08" x2="42.02" y2="349.08" stroke="#c82838" stroke-width="0.9"/>
<line x1="63.90" y1="336.57" x2="63.90" y2="344.47" stroke="#c82838" stroke-width="0.9"/>
<line x1="62.40" y1="336.57" x2="65.40" y2="336.57" stroke="#c82838" stroke-width="0.9"/>
<line x1="76.65" y1="345.79" x2="76.65" y2="351.71" stroke="#c82838" stroke-width="0.9"/>
<line x1="75.15" y1="345.79" x2="78.15" y2="345.79" stroke="#c82838" stroke-width="0.9"/>
<line x1="89.40" y1="355.00" x2="89.40" y2="356.97" stroke="#c82838" stroke-width="0.9"/>
<line x1="87.90" y1="355.00" x2="90.90" y2="355.00" stroke="#c82838" stroke-width="0.9"/>
<polyline points="38.40,367.50 40.52,354.34 44.77,345.79 51.15,334.60 57.52,339.21 63.90,344.47 76.65,351.71 89.40,356.97 114.90,364.21" fill="none" stroke="#e3262b" stroke-width="1.1" stroke-linejoin="round"/>
<circle cx="40.52" cy="354.34" r="1.7" fill="#e3262b" stroke="#e3262b" stroke-width="0.5"/>
<circle cx="44.77" cy="345.79" r="1.7" fill="#e3262b" stroke="#e3262b" stroke-width="0.5"/>
<circle cx="51.15" cy="334.60" r="1.7" fill="#e3262b" stroke="#e3262b" stroke-width="0.5"/>
<circle cx="57.52" cy="339.21" r="1.7" fill="#e3262b" stroke="#e3262b" stroke-width="0.5"/>
<circle cx="63.90" cy="344.47" r="1.7" fill="#e3262b" stroke="#e3262b" stroke-width="0.5"/>
<circle cx="76.65" cy="351.71" r="1.7" fill="#e3262b" stroke="#e3262b" stroke-width="0.5"/>
<circle cx="89.40" cy="356.97" r="1.7" fill="#e3262b" stroke="#e3262b" stroke-width="0.5"/>
<circle cx="114.90" cy="364.21" r="1.7" fill="#e3262b" stroke="#e3262b" stroke-width="0.5"/>
<polyline points="38.40,367.50 40.52,352.37 44.77,339.86 51.15,326.05 57.52,337.23 63.90,348.42 76.65,357.96 89.40,360.92 114.90,364.21" fill="none" stroke="#2a36a8" stroke-width="1.1" stroke-linejoin="round"/>
<circle cx="40.52" cy="352.37" r="1.9" fill="#e0e0f4" stroke="#2a36a8" stroke-width="1.2"/>
<circle cx="44.77" cy="339.86" r="1.9" fill="#e0e0f4" stroke="#2a36a8" stroke-width="1.2"/>
<circle cx="51.15" cy="326.05" r="1.9" fill="#e0e0f4" stroke="#2a36a8" stroke-width="1.2"/>
<circle cx="57.52" cy="337.23" r="1.9" fill="#e0e0f4" stroke="#2a36a8" stroke-width="1.2"/>
<circle cx="63.90" cy="348.42" r="1.9" fill="#e0e0f4" stroke="#2a36a8" stroke-width="1.2"/>
<circle cx="76.65" cy="357.96" r="1.9" fill="#e0e0f4" stroke="#2a36a8" stroke-width="1.2"/>
<circle cx="89.40" cy="360.92" r="1.9" fill="#e0e0f4" stroke="#2a36a8" stroke-width="1.2"/>
<circle cx="38.40" cy="367.50" r="2.0" fill="#a01840" stroke="#a01840" stroke-width="0.5"/>
<circle cx="114.90" cy="364.21" r="2.0" fill="#8a1850" stroke="#8a1850" stroke-width="0.5"/>
<line x1="83.10" y1="299.50" x2="83.10" y2="336.30" stroke="#a8a8a8" stroke-width="0.8"/>
<line x1="81.60" y1="324.10" x2="83.10" y2="324.10" stroke="#a8a8a8" stroke-width="0.8"/>
<text x="81.20" y="326.10" font-family='"Liberation Serif", serif' font-size="6" font-weight="bold" font-style="normal" text-anchor="end" fill="#333" stroke="#333" stroke-width="0.38">1</text>
<line x1="81.60" y1="301.10" x2="83.10" y2="301.10" stroke="#a8a8a8" stroke-width="0.8"/>
<text x="81.20" y="303.10" font-family='"Liberation Serif", serif' font-size="6" font-weight="bold" font-style="normal" text-anchor="end" fill="#333" stroke="#333" stroke-width="0.38">10</text>
<line x1="86.80" y1="340.10" x2="143.00" y2="340.10" stroke="#a8a8a8" stroke-width="0.8"/>
<line x1="87.80" y1="340.10" x2="87.80" y2="341.40" stroke="#a8a8a8" stroke-width="0.8"/>
<text x="87.80" y="346.80" font-family='"Liberation Serif", serif' font-size="6" font-weight="bold" font-style="normal" text-anchor="middle" fill="#333" stroke="#333" stroke-width="0.38">0</text>
<line x1="101.60" y1="340.10" x2="101.60" y2="341.40" stroke="#a8a8a8" stroke-width="0.8"/>
<text x="101.60" y="346.80" font-family='"Liberation Serif", serif' font-size="6" font-weight="bold" font-style="normal" text-anchor="middle" fill="#333" stroke="#333" stroke-width="0.38">1</text>
<line x1="115.40" y1="340.10" x2="115.40" y2="341.40" stroke="#a8a8a8" stroke-width="0.8"/>
<text x="115.40" y="346.80" font-family='"Liberation Serif", serif' font-size="6" font-weight="bold" font-style="normal" text-anchor="middle" fill="#333" stroke="#333" stroke-width="0.38">2</text>
<line x1="129.20" y1="340.10" x2="129.20" y2="341.40" stroke="#a8a8a8" stroke-width="0.8"/>
<text x="129.20" y="346.80" font-family='"Liberation Serif", serif' font-size="6" font-weight="bold" font-style="normal" text-anchor="middle" fill="#333" stroke="#333" stroke-width="0.38">3</text>
<line x1="143.00" y1="340.10" x2="143.00" y2="341.40" stroke="#a8a8a8" stroke-width="0.8"/>
<text x="143.00" y="346.80" font-family='"Liberation Serif", serif' font-size="6" font-weight="bold" font-style="normal" text-anchor="middle" fill="#333" stroke="#333" stroke-width="0.38">4</text>
<line x1="101.60" y1="309.09" x2="101.60" y2="311.59" stroke="#e3262b" stroke-width="0.7"/>
<line x1="100.60" y1="309.09" x2="102.60" y2="309.09" stroke="#e3262b" stroke-width="0.7"/>
<line x1="108.50" y1="312.86" x2="108.50" y2="315.36" stroke="#e3262b" stroke-width="0.7"/>
<line x1="107.50" y1="312.86" x2="109.50" y2="312.86" stroke="#e3262b" stroke-width="0.7"/>
<line x1="115.40" y1="316.91" x2="115.40" y2="319.41" stroke="#e3262b" stroke-width="0.7"/>
<line x1="114.40" y1="316.91" x2="116.40" y2="316.91" stroke="#e3262b" stroke-width="0.7"/>
<line x1="129.20" y1="328.52" x2="129.20" y2="331.02" stroke="#e3262b" stroke-width="0.7"/>
<line x1="128.20" y1="328.52" x2="130.20" y2="328.52" stroke="#e3262b" stroke-width="0.7"/>
<polyline points="88.95,317.18 91.25,312.17 94.70,308.02 98.15,309.53 101.60,311.59 108.50,315.36 115.40,319.41 129.20,331.02" fill="none" stroke="#e3262b" stroke-width="0.9" stroke-linejoin="round"/>
<circle cx="88.95" cy="317.18" r="1.2" fill="#e3262b" stroke="#e3262b" stroke-width="0.4"/>
<circle cx="91.25" cy="312.17" r="1.2" fill="#e3262b" stroke="#e3262b" stroke-width="0.4"/>
<circle cx="94.70" cy="308.02" r="1.2" fill="#e3262b" stroke="#e3262b" stroke-width="0.4"/>
<circle cx="98.15" cy="309.53" r="1.2" fill="#e3262b" stroke="#e3262b" stroke-width="0.4"/>
<circle cx="101.60" cy="311.59" r="1.2" fill="#e3262b" stroke="#e3262b" stroke-width="0.4"/>
<circle cx="108.50" cy="315.36" r="1.2" fill="#e3262b" stroke="#e3262b" stroke-width="0.4"/>
<circle cx="115.40" cy="319.41" r="1.2" fill="#e3262b" stroke="#e3262b" stroke-width="0.4"/>
<circle cx="129.20" cy="331.02" r="1.2" fill="#e3262b" stroke="#e3262b" stroke-width="0.4"/>
<polyline points="88.95,315.78 91.25,309.77 94.70,305.72 98.15,308.86 101.60,313.46 108.50,320.39 115.40,324.10 129.20,331.02" fill="none" stroke="#2a36a8" stroke-width="0.9" stroke-linejoin="round"/>
<circle cx="88.95" cy="315.78" r="1.2" fill="white" stroke="#2a36a8" stroke-width="0.7"/>
<circle cx="91.25" cy="309.77" r="1.2" fill="white" stroke="#2a36a8" stroke-width="0.7"/>
<circle cx="94.70" cy="305.72" r="1.2" fill="white" stroke="#2a36a8" stroke-width="0.7"/>
<circle cx="98.15" cy="308.86" r="1.2" fill="white" stroke="#2a36a8" stroke-width="0.7"/>
<circle cx="101.60" cy="313.46" r="1.2" fill="white" stroke="#2a36a8" stroke-width="0.7"/>
<circle cx="108.50" cy="320.39" r="1.2" fill="white" stroke="#2a36a8" stroke-width="0.7"/>
<circle cx="115.40" cy="324.10" r="1.2" fill="white" stroke="#2a36a8" stroke-width="0.7"/>
<circle cx="129.20" cy="331.02" r="1.2" fill="white" stroke="#2a36a8" stroke-width="0.7"/>
<path d="M112.40 299.60 L114.00 301.20 L112.40 302.80 L110.80 301.20 Z" fill="#4a5aa8" stroke="#4a5aa8" stroke-width="0.9"/>
<text x="115.80" y="303.90" font-family='"Liberation Serif", serif' font-size="7.3" font-weight="normal" font-style="normal" text-anchor="start" fill="#2a2a2a" stroke="#2a2a2a" stroke-width="0.3">PCE</text>
<line x1="110.9" y1="308.1" x2="113.9" y2="308.1" stroke="#c83040" stroke-width="1.2"/>
<text x="115.80" y="310.80" font-family='"Liberation Serif", serif' font-size="7.3" font-weight="normal" font-style="normal" text-anchor="start" fill="#2a2a2a" stroke="#2a2a2a" stroke-width="0.3">PCE+CIP</text>
</g>
</svg>
</body></html>
